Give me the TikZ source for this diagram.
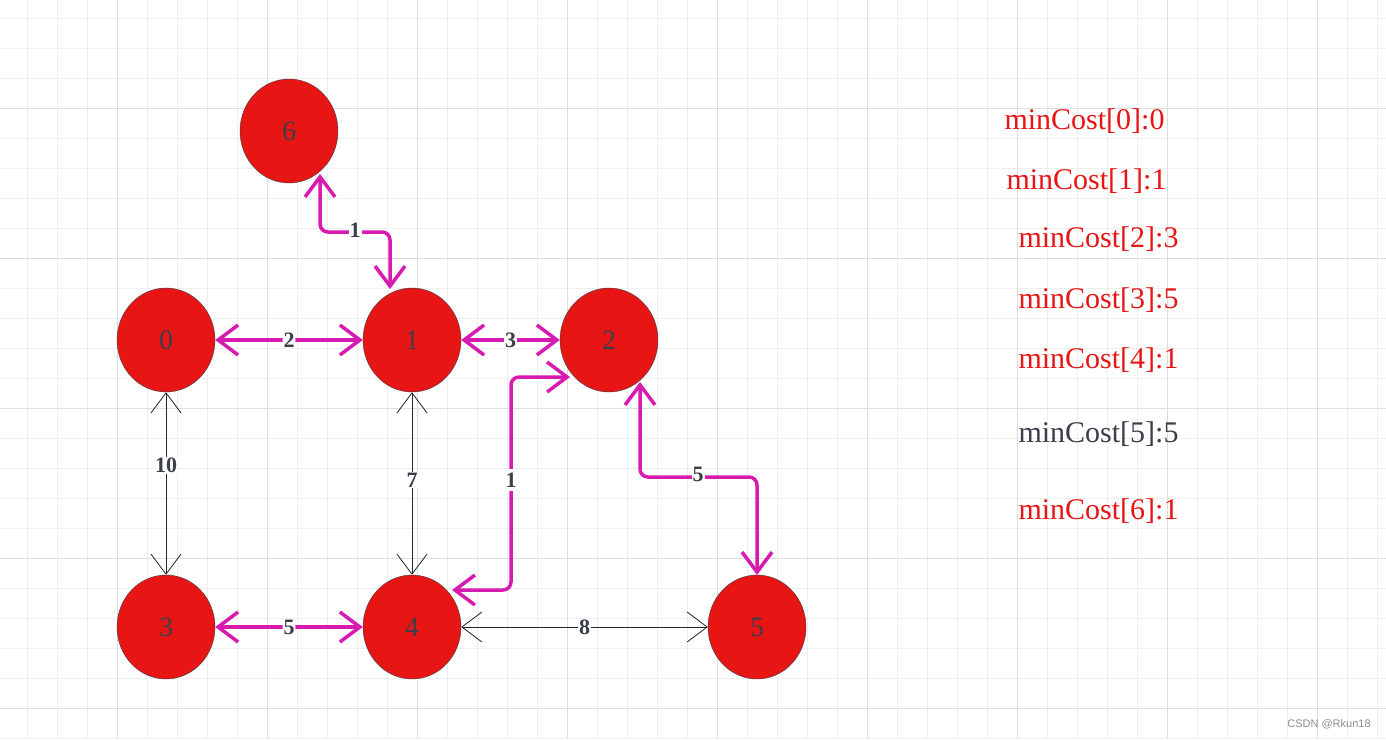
\documentclass[tikz,border=0pt]{standalone}
\usepackage{fontspec}
\setmainfont{Liberation Serif}
\newfontfamily\wm{Liberation Sans}
\usetikzlibrary{arrows.meta,shapes.geometric}
\definecolor{nred}{HTML}{E81515}
\definecolor{ntext}{HTML}{3A3F4A}
\definecolor{mag}{HTML}{D81BB0}
\definecolor{gmin}{HTML}{EEEEEE}
\definecolor{gmaj}{HTML}{DDDDDD}
\begin{document}
\begin{tikzpicture}[x=1pt,y=-1pt,
  nd/.style={ellipse,draw=ntext,fill=nred,minimum width=98pt,minimum height=104pt,inner sep=0pt,text=ntext,font=\fontsize{28}{28}\selectfont},
  pk/.style={draw=mag,line width=3.5pt,{Straight Barb[length=20pt,width=30pt,line width=3.5pt]}-{Straight Barb[length=20pt,width=30pt,line width=3.5pt]},rounded corners=8pt},
  bk/.style={draw=black!85,line width=0.8pt,{Straight Barb[length=20pt,width=30pt]}-{Straight Barb[length=20pt,width=30pt]}},
  lb/.style={fill=white,inner sep=1pt,font=\bfseries\fontsize{22}{22}\selectfont,text=ntext},
  mc/.style={anchor=west,font=\fontsize{30}{30}\selectfont,text=nred}]
\fill[white] (0,0) rectangle (1386,739);
\useasboundingbox (0,0) rectangle (1386,739);
\foreach \x in {27,57,...,1386} \draw[gmin,line width=0.8pt] (\x,0)--(\x,739);
\foreach \y in {18,48,...,739} \draw[gmin,line width=0.8pt] (0,\y)--(1386,\y);
\foreach \x in {117,267,...,1386} \draw[gmaj,line width=0.8pt] (\x,0)--(\x,739);
\foreach \y in {108,258,...,739} \draw[gmaj,line width=0.8pt] (0,\y)--(1386,\y);
\node[nd] (n6) at (289,131) {6};
\node[nd] (n0) at (166,340) {0};
\node[nd] (n1) at (412,340) {1};
\node[nd] (n2) at (609,340) {2};
\node[nd] (n3) at (166,627) {3};
\node[nd] (n4) at (412,627) {4};
\node[nd] (n5) at (757,627) {5};
\draw[pk] (320,174) -- (320,232) -- (390,232) -- (390,289);
\node[lb] (l61) at (355,230) {1};
\draw[pk] (n0) -- (n1) node[midway,lb] (l01) {2};
\draw[pk] (n1) -- (n2) node[midway,lb] (l12) {3};
\draw[pk] (n3) -- (n4) node[midway,lb] (l34) {5};
\draw[pk] (452,590) -- (511,590) -- (511,377) -- (570,377);
\node[lb,inner sep=4pt] (l42) at (511,480) {1};
\draw[pk] (640,382) -- (640,477) -- (757,477) -- (757,575);
\node[lb] (l25) at (698,474) {5};
\draw[bk] (n0) -- (n3) node[pos=0.4,lb] (l03) {10};
\draw[bk] (n1) -- (n4) node[pos=0.48,lb] (l14) {7};
\draw[bk] (n4) -- (n5) node[midway,lb] (l45) {8};
\node[mc] (m0) at (1001,121) {minCost[0]:0};
\node[mc] (m1) at (1003,181) {minCost[1]:1};
\node[mc] (m2) at (1015,239) {minCost[2]:3};
\node[mc] (m3) at (1015,300) {minCost[3]:5};
\node[mc] (m4) at (1015,360) {minCost[4]:1};
\node[mc,text=ntext] (m5) at (1015,434) {minCost[5]:5};
\node[mc] (m6) at (1015,511) {minCost[6]:1};
\node[font=\wm\fontsize{11}{11}\selectfont,text=black!45] (wm) at (1329,724) {CSDN @Rkun18};
\end{tikzpicture}
\end{document}
